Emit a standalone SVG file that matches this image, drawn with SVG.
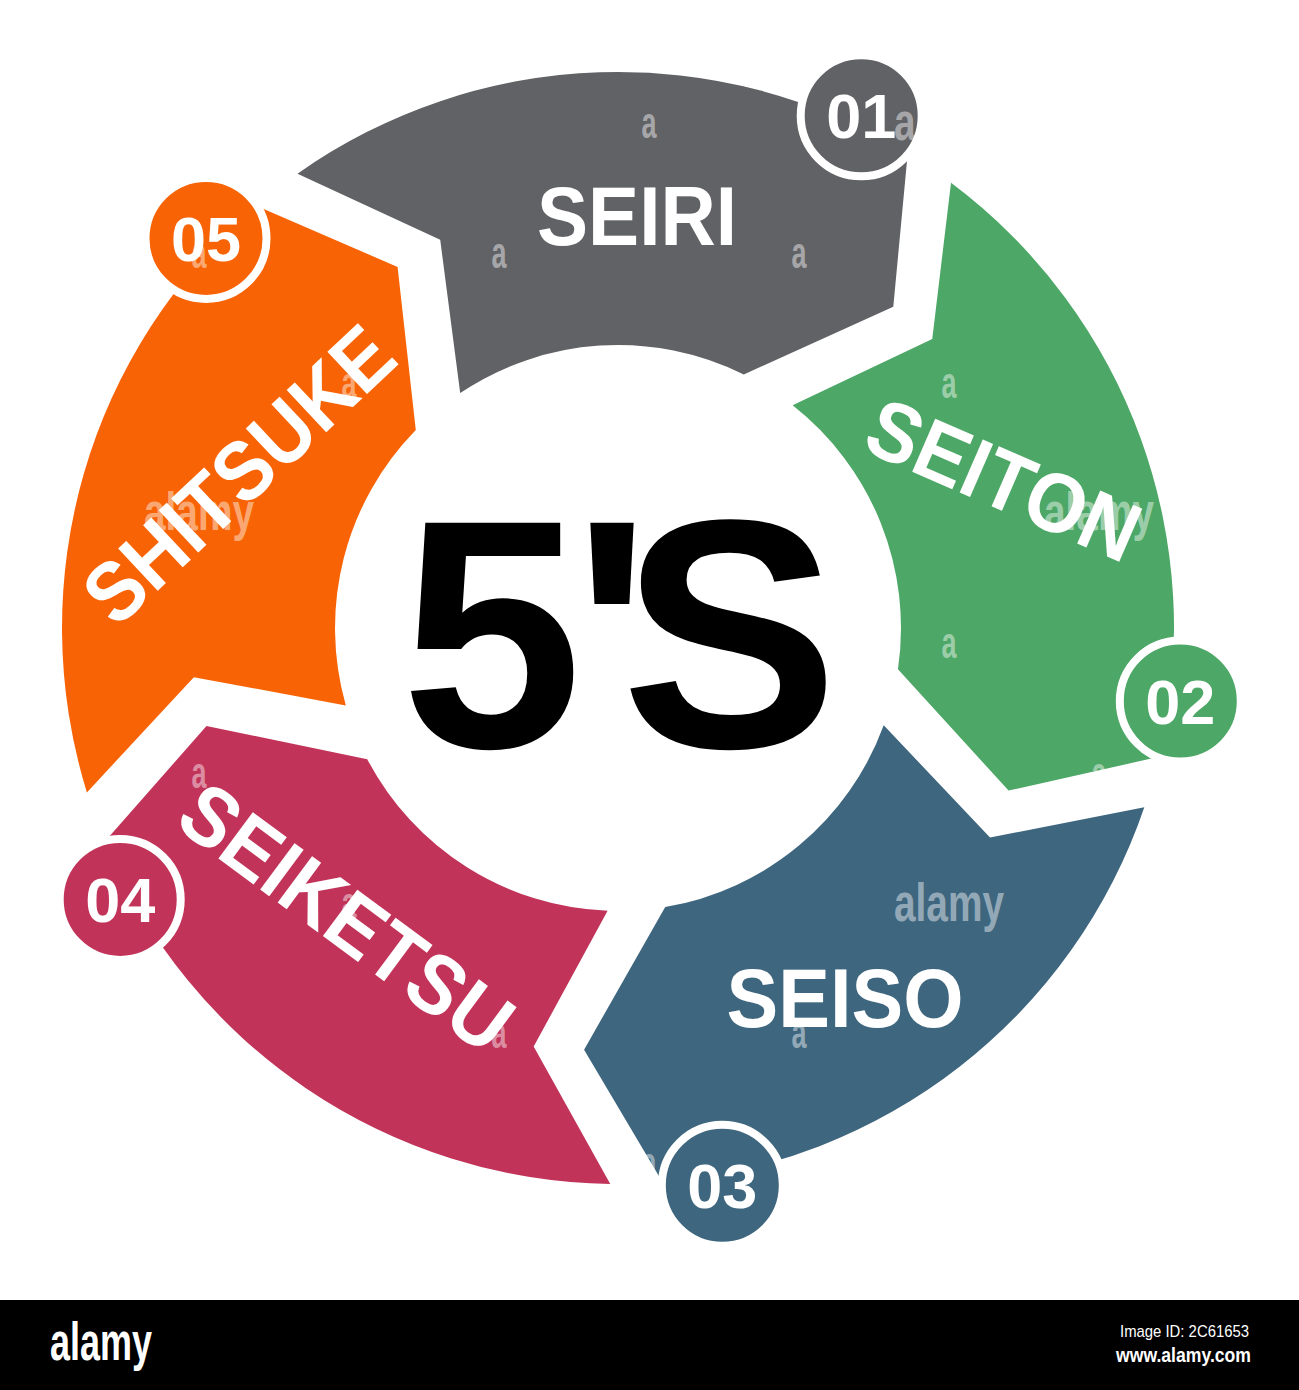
<svg xmlns="http://www.w3.org/2000/svg" width="1299" height="1390" viewBox="0 0 1299 1390">
  <defs>
    <style>
      .lbl { font-family: "Liberation Sans", Arial, sans-serif; font-weight: bold; font-size: 84px; fill: #ffffff; text-anchor: middle; }
      .num { font-family: "Liberation Sans", Arial, sans-serif; font-weight: bold; font-size: 63px; fill: #ffffff; text-anchor: middle; }
      .badge { stroke: #ffffff; stroke-width: 8; }
      .title { font-family: "Liberation Sans", Arial, sans-serif; font-weight: bold; font-size: 326px; fill: #000000; }
      .wm { font-family: "Liberation Sans", Arial, sans-serif; font-weight: bold; fill: #ffffff; fill-opacity: 0.45; text-anchor: middle; }
      .wa { font-size: 45px; }
      .wl { font-size: 54px; }
      .foot { font-family: "Liberation Sans", Arial, sans-serif; fill: #ffffff; }
    </style>
    <path id="seg" d="M-320.5,-454.3 A556,556 0 0 1 289.7,-474.6 L275.3,-321.2 L125.8,-253.5 A283,283 0 0 0 -157.8,-234.9 L-177.8,-388.2 Z"/>
  </defs>

  <rect x="0" y="0" width="1299" height="1390" fill="#ffffff"/>

  <g id="connectors"></g>

  <g id="seiri">
    <use href="#seg" fill="#616265" transform="translate(618 628) rotate(0)"/>
    <circle class="badge" cx="861.2" cy="115.8" r="60.5" fill="#616265"/>
    <text class="num" x="861.2" y="138.3">01</text>
    <text class="lbl" x="637" y="245" textLength="200" lengthAdjust="spacingAndGlyphs">SEIRI</text>
  </g>

  <g id="seiton">
    <use href="#seg" fill="#4da766" transform="translate(618 628) rotate(72)"/>
    <circle class="badge" cx="1180.3" cy="701" r="60.5" fill="#4da766"/>
    <text class="num" x="1180.3" y="723.5">02</text>
    <text class="lbl" transform="translate(1004 479) rotate(23.5)" x="0" y="30" textLength="288" lengthAdjust="spacingAndGlyphs">SEITON</text>
  </g>

  <g id="seiso">
    <use href="#seg" fill="#3e667e" transform="translate(618 628) rotate(144)"/>
    <circle class="badge" cx="722.3" cy="1185.3" r="60.5" fill="#3e667e"/>
    <text class="num" x="722.3" y="1207.8">03</text>
    <text class="lbl" x="845" y="1027" textLength="237" lengthAdjust="spacingAndGlyphs">SEISO</text>
  </g>

  <g id="seiketsu">
    <use href="#seg" fill="#c13359" transform="translate(618 628) rotate(216)"/>
    <circle class="badge" cx="120.2" cy="899.4" r="60.5" fill="#c13359"/>
    <text class="num" x="120.2" y="921.9">04</text>
    <text class="lbl" transform="translate(347 916.5) rotate(36.5)" x="0" y="30" textLength="390" lengthAdjust="spacingAndGlyphs">SEIKETSU</text>
  </g>

  <g id="shitsuke">
    <use href="#seg" fill="#f86305" transform="translate(618 628) rotate(288)"/>
    <circle class="badge" cx="206" cy="238.4" r="60.5" fill="#f86305"/>
    <text class="num" x="206" y="260.9">05</text>
    <text class="lbl" transform="translate(238 474) rotate(-43.2)" x="0" y="30" textLength="390" lengthAdjust="spacingAndGlyphs">SHITSUKE</text>
  </g>

  <g id="center">
    <text class="title" x="401 573 621" y="747">5'S</text>
  </g>

  <g id="watermark">
    <text class="wm wa" x="649" y="138" textLength="15" lengthAdjust="spacingAndGlyphs">a</text>
    <text class="wm wa" x="199" y="268" textLength="15" lengthAdjust="spacingAndGlyphs">a</text>
    <text class="wm wa" x="499" y="268" textLength="15" lengthAdjust="spacingAndGlyphs">a</text>
    <text class="wm wa" x="799" y="268" textLength="15" lengthAdjust="spacingAndGlyphs">a</text>
    <text class="wm wa" x="349" y="398" textLength="15" lengthAdjust="spacingAndGlyphs">a</text>
    <text class="wm wa" x="949" y="398" textLength="15" lengthAdjust="spacingAndGlyphs">a</text>
    <text class="wm wa" x="949" y="658" textLength="15" lengthAdjust="spacingAndGlyphs">a</text>
    <text class="wm wa" x="199" y="788" textLength="15" lengthAdjust="spacingAndGlyphs">a</text>
    <text class="wm wa" x="1099" y="788" textLength="15" lengthAdjust="spacingAndGlyphs">a</text>
    <text class="wm wa" x="349" y="918" textLength="15" lengthAdjust="spacingAndGlyphs">a</text>
    <text class="wm wa" x="499" y="1048" textLength="15" lengthAdjust="spacingAndGlyphs">a</text>
    <text class="wm wa" x="799" y="1048" textLength="15" lengthAdjust="spacingAndGlyphs">a</text>
    <text class="wm wa" x="649" y="1178" textLength="15" lengthAdjust="spacingAndGlyphs">a</text>
    <text class="wm wl" x="949" y="140" textLength="110" lengthAdjust="spacingAndGlyphs">alamy</text>
    <text class="wm wl" x="199" y="530" textLength="110" lengthAdjust="spacingAndGlyphs">alamy</text>
    <text class="wm wl" x="1099" y="530" textLength="110" lengthAdjust="spacingAndGlyphs">alamy</text>
    <text class="wm wl" x="949" y="921" textLength="110" lengthAdjust="spacingAndGlyphs">alamy</text>
  </g>

  <g id="footer">
    <rect x="0" y="1300" width="1299" height="90" fill="#000000"/>
    <text class="foot" x="50" y="1360" font-size="53" font-weight="bold" textLength="102" lengthAdjust="spacingAndGlyphs">alamy</text>
    <text class="foot" x="1249" y="1337" font-size="17" text-anchor="end" textLength="129" lengthAdjust="spacingAndGlyphs">Image ID: 2C61653</text>
    <text class="foot" x="1251" y="1362" font-size="20" font-weight="bold" text-anchor="end" textLength="135" lengthAdjust="spacingAndGlyphs">www.alamy.com</text>
  </g>
</svg>
